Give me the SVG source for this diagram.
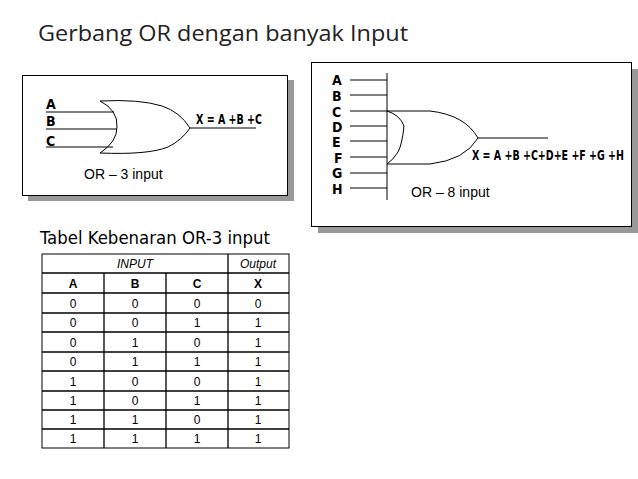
<svg xmlns="http://www.w3.org/2000/svg" width="638" height="479" viewBox="0 0 638 479">
<style>
.w{stroke:#000;stroke-width:1;fill:none}
.b{font-family:"DejaVu Sans Condensed","Liberation Sans",sans-serif;font-weight:bold;font-size:14px}
.a{font-family:"Liberation Sans",sans-serif;font-size:14px}
.t{font-family:"Liberation Sans",sans-serif;font-size:12px;text-anchor:middle}
.ln{stroke:#000;stroke-width:1.3}
</style>
<rect width="638" height="479" fill="#fff"/>
<text x="38" y="41" font-family="Open Sans,sans-serif" font-size="22" fill="#222" textLength="370" lengthAdjust="spacingAndGlyphs">Gerbang OR dengan banyak Input</text>
<g id="or3">
<rect x="28" y="80" width="266" height="121" fill="#999"/>
<rect x="22.5" y="75.5" width="265" height="120" fill="#fff" stroke="#000"/>
<path class="w" d="M46 112H114M46 129H117M46 147H113"/>
<path class="w" d="M100 101Q118 110 117 127Q117 142 100 153Q148 155 168 147Q182 140 190 128Q180 112 162 106Q140 99 100 101Z"/>
<path class="w" d="M190 128H256"/>
<text class="b" x="46" y="109">A</text><text class="b" x="46" y="126">B</text><text class="b" x="46" y="146">C</text>
<text class="b" x="196" y="124" textLength="66" lengthAdjust="spacingAndGlyphs">X = A +B +C</text>
<text class="a" x="84" y="179">OR – 3 input</text>
</g>
<g id="or8">
<rect x="318" y="69" width="320" height="164" fill="#999"/>
<rect x="311.5" y="62.5" width="320" height="164" fill="#fff" stroke="#000"/>
<path class="w" d="M387 73V200" stroke-width="2.5"/>
<path class="w" d="M350 80H387M350 95H387M350 111H387M350 126H387M350 141H387M350 157H387M350 173H387M350 188H387"/>
<path class="w" stroke-width="2.5" d="M387 111Q400 115 404 126Q402 145 398 152Q393 160 387 164"/>
<path class="w" d="M387 111H430Q465 115 478 138Q465 160 430 164H387"/>
<path class="w" d="M478 138H548"/>
<g class="b">
<text x="332" y="85">A</text><text x="332" y="101">B</text><text x="332" y="117">C</text><text x="332" y="132">D</text><text x="332" y="147">E</text><text x="334" y="163">F</text><text x="332" y="178">G</text><text x="332" y="194">H</text>
<text x="472" y="160" textLength="152" lengthAdjust="spacingAndGlyphs">X = A +B +C+D+E +F +G +H</text>
</g>
<text class="a" x="411" y="197">OR – 8 input</text>
</g>
<g id="table">
<text x="40" y="244" font-family="DejaVu Sans Condensed,sans-serif" font-size="17" textLength="230" lengthAdjust="spacingAndGlyphs">Tabel Kebenaran OR-3 input</text>
<rect x="42" y="254" width="247" height="194" fill="none" stroke="#000"/>
<path class="ln" d="M42 273H289M42 293H289M42 313H289M42 332H289M42 352H289M42 371H289M42 391H289M42 410H289M42 429H289"/>
<path class="ln" d="M228 254V448M104 273V448M166 273V448"/>
<text class="t" x="135" y="268" font-style="italic">INPUT</text>
<text class="t" x="258" y="268" font-style="italic">Output</text>
<g class="t" font-weight="bold"><text x="73" y="288">A</text><text x="135" y="288">B</text><text x="197" y="288">C</text><text x="258" y="288">X</text></g>
<g class="t">
<text x="73" y="308">0</text><text x="135" y="308">0</text><text x="197" y="308">0</text><text x="258" y="308">0</text>
<text x="73" y="327">0</text><text x="135" y="327">0</text><text x="197" y="327">1</text><text x="258" y="327">1</text>
<text x="73" y="347">0</text><text x="135" y="347">1</text><text x="197" y="347">0</text><text x="258" y="347">1</text>
<text x="73" y="366">0</text><text x="135" y="366">1</text><text x="197" y="366">1</text><text x="258" y="366">1</text>
<text x="73" y="386">1</text><text x="135" y="386">0</text><text x="197" y="386">0</text><text x="258" y="386">1</text>
<text x="73" y="405">1</text><text x="135" y="405">0</text><text x="197" y="405">1</text><text x="258" y="405">1</text>
<text x="73" y="424">1</text><text x="135" y="424">1</text><text x="197" y="424">0</text><text x="258" y="424">1</text>
<text x="73" y="443">1</text><text x="135" y="443">1</text><text x="197" y="443">1</text><text x="258" y="443">1</text>
</g>
</g>
</svg>
